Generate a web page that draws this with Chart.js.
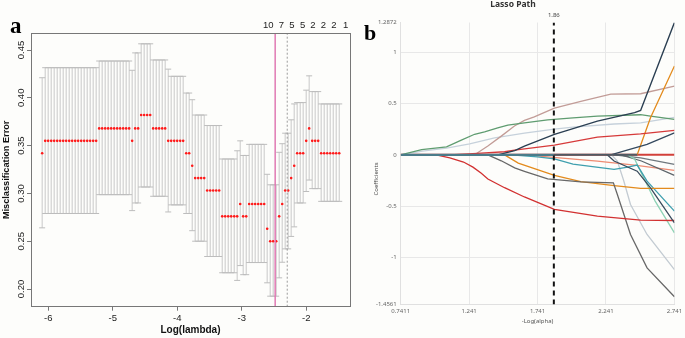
<!DOCTYPE html>
<html><head><meta charset="utf-8">
<script src="https://cdn.jsdelivr.net/npm/chart.js@4.4.1/dist/chart.umd.min.js"></script>
<style>
html,body{margin:0;padding:0;background:#fdfdfb;}
body{width:685px;height:338px;position:relative;overflow:hidden;}
.pane{position:absolute;top:0;height:338px;}
.letter{position:absolute;font-family:"Liberation Serif",serif;font-weight:bold;color:#000;line-height:1;}
</style></head><body>
<div class="pane" style="left:0;width:355px"><canvas id="cvA" width="355" height="338"></canvas></div>
<div class="pane" style="left:355px;width:330px"><canvas id="cvB" width="330" height="338"></canvas></div>
<div class="letter" style="left:10px;top:14px;font-size:23px">a</div>
<div class="letter" style="left:364px;top:21.6px;font-size:22px">b</div>
<div style="position:absolute;left:463px;top:0;width:100px;text-align:center;font:bold 8.5px 'Noto Sans';line-height:8.5px;color:#333">Lasso Path</div>
<div style="position:absolute;left:345.5px;top:175px;width:60px;height:8px;text-align:center;font:6px 'Noto Sans';line-height:8px;color:#555;transform:rotate(-90deg);">Coefficients</div>
<script>
// ---------- Panel a: cross-validation curve ----------
const logLambda = [-6.095,-6.048,-6.002,-5.955,-5.909,-5.862,-5.816,-5.769,-5.723,-5.676,
-5.630,-5.583,-5.537,-5.490,-5.444,-5.397,-5.351,-5.304,-5.258,-5.211,
-5.165,-5.118,-5.072,-5.025,-4.979,-4.932,-4.886,-4.839,-4.793,-4.746,
-4.700,-4.653,-4.607,-4.560,-4.514,-4.467,-4.420,-4.374,-4.327,-4.281,
-4.234,-4.188,-4.141,-4.095,-4.048,-4.002,-3.955,-3.909,-3.862,-3.816,
-3.769,-3.723,-3.676,-3.630,-3.583,-3.537,-3.490,-3.444,-3.397,-3.351,
-3.304,-3.258,-3.211,-3.165,-3.118,-3.072,-3.025,-2.979,-2.932,-2.886,
-2.839,-2.793,-2.746,-2.700,-2.653,-2.607,-2.560,-2.514,-2.467,-2.421,
-2.374,-2.328,-2.281,-2.235,-2.188,-2.142,-2.095,-2.049,-2.002,-1.956,
-1.909,-1.863,-1.816,-1.770,-1.723,-1.676,-1.630,-1.583,-1.537,-1.490];
// runs of consecutive lambdas sharing the same CV result
const runLength = [1,18,11,1,2,4,5,1,5,2,1,4,5,5,1,1,2,6,1,3,1,1,2,1,1,3,1,1,3,7];
const cvMean  = [0.342,0.355,0.368,0.355,0.368,0.382,0.368,0.355,0.355,0.342,0.329,0.316,0.303,0.276,0.276,0.289,0.276,0.289,0.263,0.250,0.276,0.289,0.303,0.316,0.329,0.342,0.355,0.368,0.355,0.342];
const cvUpper = [0.421,0.4315,0.4385,0.4288,0.447,0.4565,0.4396,0.430,0.4225,0.405,0.398,0.382,0.371,0.336,0.3446,0.355,0.3397,0.3513,0.320,0.309,0.343,0.352,0.363,0.377,0.3936,0.395,0.408,0.423,0.4065,0.3936];
const cvLower = [0.264,0.279,0.2987,0.282,0.290,0.3067,0.297,0.2806,0.288,0.279,0.261,0.250,0.234,0.217,0.209,0.2245,0.215,0.2277,0.2065,0.1925,0.2117,0.228,0.242,0.255,0.265,0.290,0.302,0.314,0.305,0.2917];
const nzPos    = [-2.590,-2.386,-2.222,-2.058,-1.900,-1.736,-1.574,-1.390];
const nzLabels = ['10','7','5','5','2','2','2','1'];
const xTicksA  = [-6,-5,-4,-3,-2];
const yTicksA  = [0.20,0.25,0.30,0.35,0.40,0.45];
const lambdaMinLog = -2.483;
const lambda1seLog = -2.296;
const xMinA = -6.268, xMaxA = -1.323, yMinA = 0.1815, yMaxA = 0.4678;

const stemData = [], capData = [], meanData = [];
let j = 0;
runLength.forEach((n, k) => {
  for (let i = 0; i < n; i++, j++) {
    const x = logLambda[j];
    stemData.push({x, y: cvLower[k]}, {x, y: cvUpper[k]}, {x, y: null});
    capData.push({x, y: cvUpper[k]}, {x, y: cvLower[k]});
    meanData.push({x, y: cvMean[k]});
  }
});

const boxPlugin = {
  id: 'boxA',
  afterDatasetsDraw(chart) {
    const {ctx, chartArea: a} = chart;
    ctx.save();
    ctx.strokeStyle = '#777'; ctx.lineWidth = 1;
    const l = Math.floor(a.left) + 0.5, t = Math.floor(a.top) + 0.5;
    const r = Math.floor(a.right) + 0.5, b = Math.floor(a.bottom) + 0.5;
    ctx.strokeRect(l, t, r - l, b - t);
    ctx.restore();
  }
};
const yLabelPlugin = {
  id: 'yLabA',
  afterDraw(chart) {
    const {ctx} = chart; const s = chart.scales.y;
    ctx.save();
    ctx.font = '9.5px "Liberation Sans"'; ctx.fillStyle = '#222';
    ctx.textAlign = 'center'; ctx.textBaseline = 'middle';
    yTicksA.forEach(v => {
      ctx.save();
      ctx.translate(21.5, s.getPixelForValue(v));
      ctx.rotate(-Math.PI / 2);
      ctx.fillText(v.toFixed(2), 0, 0);
      ctx.restore();
    });
    ctx.restore();
  }
};

new Chart(document.getElementById('cvA'), {
  type: 'scatter',
  data: { datasets: [
    {label: 'lambda.min', data: [{x: lambdaMinLog, y: yMinA}, {x: lambdaMinLog, y: yMaxA}], showLine: true, borderColor: '#e07ab3', borderWidth: 1.5, pointRadius: 0, order: 0},
    {label: 'lambda.1se', data: [{x: lambda1seLog, y: yMinA}, {x: lambda1seLog, y: yMaxA}], showLine: true, borderColor: '#9c9c9c', borderWidth: 1, borderDash: [2, 2], pointRadius: 0, order: 1},
    {label: 'mean', data: meanData, pointRadius: 1.3, pointBackgroundColor: '#ff1a1a', backgroundColor: '#ff1a1a', pointBorderWidth: 0, borderWidth: 0, order: 2},
    {label: 'caps', data: capData, pointStyle: 'line', pointRadius: 3, pointBorderColor: '#bdbdbd', borderColor: '#bdbdbd', pointBorderWidth: 1, order: 3},
    {label: 'stems', data: stemData, showLine: true, spanGaps: false, borderColor: '#c8c8c8', borderWidth: 1, pointRadius: 0, order: 4}
  ]},
  options: {
    responsive: false, animation: false, devicePixelRatio: 1, events: [],
    layout: {padding: {left: 0, right: 1.3, top: 0, bottom: 0}},
    plugins: {legend: {display: false}, tooltip: {enabled: false}},
    scales: {
      x: {type: 'linear', position: 'bottom', min: xMinA, max: xMaxA,
        afterBuildTicks: s => { s.ticks = xTicksA.map(v => ({value: v})); },
        ticks: {callback: (v, i) => String(xTicksA[i]), font: {family: 'Liberation Sans', size: 9.5}, color: '#222', padding: 1.5, maxRotation: 0, autoSkip: false},
        grid: {drawOnChartArea: false, drawTicks: true, tickLength: 4, color: '#777'},
        border: {display: false},
        title: {display: true, text: 'Log(lambda)', font: {family: 'Liberation Sans', size: 10, weight: 'bold'}, color: '#111', padding: {top: 0, bottom: 2}},
        afterFit: s => { s.height = 31.3; }
      },
      xTop: {type: 'linear', position: 'top', min: xMinA, max: xMaxA,
        afterBuildTicks: s => { s.ticks = nzPos.map(v => ({value: v})); },
        ticks: {callback: (v, i) => nzLabels[i], font: {family: 'Liberation Sans', size: 9.5}, color: '#222', padding: 1.6, maxRotation: 0, autoSkip: false},
        grid: {display: false, drawTicks: false}, border: {display: false},
        afterFit: s => { s.height = 33; }
      },
      y: {type: 'linear', position: 'left', min: yMinA, max: yMaxA,
        afterBuildTicks: s => { s.ticks = yTicksA.map(v => ({value: v})); },
        ticks: {display: false},
        grid: {drawOnChartArea: false, drawTicks: true, tickLength: 4, color: '#777'},
        border: {display: false},
        title: {display: true, text: 'Misclassification Error', font: {family: 'Liberation Sans', size: 9.2, weight: 'bold'}, color: '#111', padding: {top: 1, bottom: 0}},
        afterFit: s => { s.width = 31; }
      }
    }
  },
  plugins: [boxPlugin, yLabelPlugin]
});

// ---------- Panel b: Lasso path ----------
const alphaTicks = [0.7411, 1.241, 1.741, 2.241, 2.741];
const alphaTickLabels = ['0.7411', '1.241', '1.741', '2.241', '2.741'];
const coefTicks = [-1.4561, -1, -0.5, 0, 0.5, 1, 1.2872];
const coefTickLabels = ['-1.4561', '-1', '-0.5', '0', '0.5', '1', '1.2872'];
const chosenAlpha = 1.86;
const xMinB = 0.7411, xMaxB = 2.741, yMinB = -1.4561, yMaxB = 1.2872;

const pathZeroRed  = [[0.7411,0],[2.741,0]];
const pathZeroTeal = [[0.7411,0],[1.86,0]];
const pathZeroDark = [[1.86,0],[2.47,0]];
const pathGreen    = [[0.7411,0],[0.894,0.05],[1.076,0.078],[1.18,0.14],[1.281,0.2],[1.354,0.224],[1.45,0.262],[1.524,0.289],[1.645,0.31],[1.815,0.34],[2.0,0.36],[2.178,0.377],[2.494,0.39],[2.566,0.377],[2.741,0.345]];
const pathSteel    = [[0.7411,0],[0.9,0.035],[1.076,0.065],[1.245,0.107],[1.427,0.165],[1.645,0.21],[1.864,0.25],[2.0,0.27],[2.30,0.3],[2.494,0.31],[2.741,0.365]];
const pathRosy     = [[1.281,0],[1.378,0.085],[1.476,0.182],[1.572,0.28],[1.645,0.335],[1.717,0.37],[1.864,0.455],[2.057,0.52],[2.276,0.59],[2.494,0.594],[2.741,0.669]];
const pathNavy     = [[1.45,0],[1.574,0.04],[1.645,0.085],[1.864,0.199],[2.178,0.328],[2.45,0.41],[2.494,0.432],[2.741,1.2872]];
const pathRedUp    = [[1.1,0],[1.3,0.015],[1.5,0.03],[1.574,0.046],[1.864,0.094],[2.178,0.172],[2.494,0.204],[2.741,0.238]];
const pathNavyUp   = [[2.276,0],[2.37,0.036],[2.541,0.101],[2.741,0.214]];
const pathOrangeDn = [[1.5,0],[1.6,-0.08],[1.864,-0.2],[2.057,-0.26],[2.3,-0.3],[2.494,-0.327],[2.741,-0.327]];
const pathOrangeUp = [[2.469,0],[2.566,0.36],[2.741,0.864]];
const pathGrayDn   = [[1.378,0],[1.476,-0.058],[1.574,-0.127],[1.645,-0.16],[1.815,-0.235],[2.057,-0.263],[2.295,-0.273],[2.324,-0.386],[2.42,-0.775],[2.541,-1.1],[2.741,-1.38]];
const pathRedDn    = [[1.0,0],[1.1,-0.03],[1.2,-0.07],[1.269,-0.12],[1.33,-0.18],[1.378,-0.235],[1.5,-0.32],[1.645,-0.41],[1.864,-0.53],[2.178,-0.597],[2.494,-0.635],[2.741,-0.639]];
const pathTeal     = [[1.55,0],[1.74,-0.02],[1.864,-0.04],[2.0,-0.09],[2.30,-0.142],[2.40,-0.12],[2.469,-0.1],[2.541,-0.256],[2.741,-0.548]];
const pathSalmon   = [[1.65,0],[1.9,-0.03],[2.178,-0.061],[2.45,-0.1],[2.741,-0.152]];
const pathNavyDn   = [[2.25,0],[2.30,-0.06],[2.469,-0.159],[2.566,-0.321],[2.741,-0.662]];
const pathMint     = [[2.40,0],[2.45,-0.04],[2.5,-0.18],[2.6,-0.45],[2.741,-0.76]];
const pathSilver   = [[2.28,0],[2.324,-0.061],[2.37,-0.25],[2.42,-0.483],[2.541,-0.775],[2.741,-1.116]];
const pathSlate1   = [[2.3,0],[2.494,-0.03],[2.741,-0.094]];
const pathSlate2   = [[2.35,0],[2.5,-0.06],[2.741,-0.2]];

const pathDefs = [
  [pathZeroRed, '#d2403a', 2],
  [pathSilver, '#c3cbd2', 1.3],
  [pathSteel, '#c6d1db', 1.3],
  [pathRosy, '#c29c97', 1.3],
  [pathGreen, '#5f9c70', 1.3],
  [pathSalmon, '#ee8b72', 1.3],
  [pathSlate1, '#70787e', 1.3],
  [pathSlate2, '#5d656b', 1.3],
  [pathMint, '#8dd2b5', 1.3],
  [pathTeal, '#3f9fae', 1.3],
  [pathOrangeDn, '#e38b1d', 1.3],
  [pathOrangeUp, '#e38b1d', 1.3],
  [pathGrayDn, '#686868', 1.3],
  [pathRedDn, '#d23131', 1.3],
  [pathRedUp, '#d63a3a', 1.3],
  [pathNavyUp, '#34495e', 1.3],
  [pathNavyDn, '#3a4c5d', 1.3],
  [pathNavy, '#2b3f52', 1.4],
  [pathZeroTeal, '#4b7c8a', 2.2],
  [pathZeroDark, '#4f5a63', 2]
];
const pathSets = pathDefs.map((d, i) => ({
  data: d[0].map(p => ({x: p[0], y: p[1]})),
  showLine: true, borderColor: d[1], borderWidth: d[2], pointRadius: 0, tension: 0,
  order: pathDefs.length - i + 1
}));
pathSets.push({data: [{x: chosenAlpha, y: yMinB}, {x: chosenAlpha, y: yMaxB}], showLine: true, borderColor: '#111', borderWidth: 2, borderDash: [5, 4], pointRadius: 0, order: 0});

const tickFontB = {family: 'Noto Sans', size: 6};
new Chart(document.getElementById('cvB'), {
  type: 'scatter',
  data: {datasets: pathSets},
  options: {
    responsive: false, animation: false, devicePixelRatio: 1, events: [],
    layout: {padding: {left: 0, right: 9.3, top: 0, bottom: 0}},
    plugins: {legend: {display: false}, tooltip: {enabled: false}},
    scales: {
      x: {type: 'linear', position: 'bottom', min: xMinB, max: xMaxB,
        afterBuildTicks: s => { s.ticks = alphaTicks.map(v => ({value: v})); },
        ticks: {callback: (v, i) => alphaTickLabels[i], font: tickFontB, color: '#666', padding: 2.9, maxRotation: 0, autoSkip: false},
        grid: {color: '#e8e8e8', drawTicks: false},
        border: {color: '#e0e0e0'},
        title: {display: true, text: '-Log(alpha)', font: tickFontB, color: '#555', padding: {top: 0, bottom: 12.7}},
        afterFit: s => { s.height = 33.5; }
      },
      xTop: {type: 'linear', position: 'top', min: xMinB, max: xMaxB,
        afterBuildTicks: s => { s.ticks = [{value: chosenAlpha}]; },
        ticks: {callback: () => chosenAlpha.toFixed(2), font: tickFontB, color: '#444', padding: 3.2, maxRotation: 0, autoSkip: false},
        grid: {display: false, drawTicks: false}, border: {display: false},
        afterFit: s => { s.height = 22.5; }
      },
      y: {type: 'linear', position: 'left', min: yMinB, max: yMaxB,
        afterBuildTicks: s => { s.ticks = coefTicks.map(v => ({value: v})); },
        ticks: {callback: (v, i) => coefTickLabels[i], font: tickFontB, color: '#666', padding: 4, autoSkip: false},
        grid: {color: c => (c.tick && c.tick.value === yMaxB) ? 'rgba(0,0,0,0)' : '#e8e8e8', drawTicks: false},
        border: {color: '#e0e0e0'},
        afterFit: s => { s.width = 45.7; }
      }
    }
  }
});
</script>
</body></html>
